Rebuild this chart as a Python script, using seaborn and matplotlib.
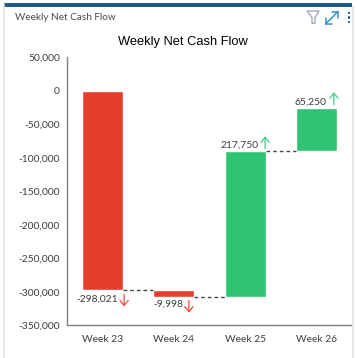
#!/usr/bin/python3

import numpy as np
import pandas as pd
import seaborn as sns
import matplotlib.pyplot as plt
from matplotlib.lines import Line2D
from matplotlib.patches import Rectangle, Polygon
from matplotlib.transforms import offset_copy

weeks = ["Week 23", "Week 24", "Week 25", "Week 26"]
changes = [-298021, -9998, 217750, 65250]
labels = ["-298,021", "-9,998", "217,750", "65,250"]
y_ticks = [50000, 0, -50000, -100000, -150000, -200000, -250000, -300000, -350000]
chart_title = "Weekly Net Cash Flow"

RED = "#e63e2b"
GREEN = "#2ec472"
ARROW_RED = "#ee4a3c"
ARROW_GREEN = "#45c985"
TEXT = "#3c3c3c"
W, H = 357, 358

# pixel offsets from the bar centre / bar edge
label_dx = [15, 9, 13.5, 10.5]
label_dy = [-9, -7.5, 6.5, 6]
arrow_dx = [21.5, 15, 20, 17.5]
arrow_dy = [(-4, -16), (-3.5, -15.5), (2.5, 15), (3, 15.5)]


def main():
    sns.set_theme(style="white")
    plt.rcParams["font.family"] = ["Lato", "DejaVu Sans"]

    ends = np.cumsum(changes)
    starts = ends - np.array(changes)
    df = pd.DataFrame({"week": weeks, "change": changes, "start": starts, "end": ends})

    fig = plt.figure(figsize=(W / 100, H / 100), dpi=100, facecolor="white")
    ax = fig.add_axes([67 / W, 1 - 325.2 / H, 285 / W, 267.7 / H])

    sns.barplot(data=df, x="week", y="change", hue="week", order=weeks, ax=ax, width=0.575,
                palette=[RED if c < 0 else GREEN for c in changes], legend=False, saturation=1)
    # shift each bar so that it starts where the previous one ended
    for patch, start in zip(ax.patches, starts):
        patch.set_y(start)

    ax.set_xlim(-0.5, 3.5)
    ax.set_ylim(-350000, 50000)
    ax.set_yticks(y_ticks)
    ax.set_yticklabels([f"{t:,}" for t in y_ticks], fontsize=7.4, color=TEXT)
    ax.set_xlabel("")
    ax.set_ylabel("")
    ax.tick_params(axis="x", length=0, pad=7, labelsize=7.4, labelcolor=TEXT)
    ax.tick_params(axis="y", length=0, pad=5)
    for side in ["top", "right"]:
        ax.spines[side].set_visible(False)
    for side in ["left", "bottom"]:
        ax.spines[side].set_color("#808080")
        ax.spines[side].set_linewidth(1.0)

    # connectors between bars
    for i in range(3):
        ax.plot([i + 0.2875, i + 0.7125], [ends[i], ends[i]], color="#444444", lw=1.0,
                dashes=(2.6, 2.2))

    # value labels and direction arrows
    for i, c in enumerate(changes):
        edge = min(starts[i], ends[i]) if c < 0 else ends[i]
        ax.text(i, edge, labels[i], ha="right", va="center", fontsize=7.4, color=TEXT,
                transform=offset_copy(ax.transData, fig, x=label_dx[i], y=label_dy[i], units="dots"))
        tail = offset_copy(ax.transData, fig, x=arrow_dx[i], y=arrow_dy[i][0], units="dots")
        tip = offset_copy(ax.transData, fig, x=arrow_dx[i], y=arrow_dy[i][1], units="dots")
        ax.annotate("", xy=(i, edge), xycoords=tip, xytext=(i, edge), textcoords=tail,
                    arrowprops=dict(arrowstyle="->,head_length=0.36,head_width=0.3",
                                    color=ARROW_RED if c < 0 else ARROW_GREEN,
                                    lw=0.9, mutation_scale=10, shrinkA=0, shrinkB=0))

    fig.text(183 / W, 1 - 42.5 / H, chart_title, ha="center", va="center",
             fontsize=9.25, color="black", family="Liberation Sans")
    fig.text(15 / W, 1 - 17.5 / H, chart_title, ha="left", va="center", fontsize=7.2, color="#4a4a4a")

    draw_card(fig)
    fig.savefig("out.png", dpi=100)


def draw_card(fig):
    def px(x, y):
        return x / W, 1 - y / H

    def line(xs, ys, color, lw=1.0):
        fig.add_artist(Line2D([x / W for x in xs], [1 - y / H for y in ys], color=color, lw=lw))

    # card frame
    fig.add_artist(Rectangle(px(4, 6.5), 348 / W, 3.5 / H, color="#1f5a85", lw=0))
    line([3.8, 3.8], [4, 358], "#dfe1e8", 1.2)
    line([353, 353], [6, 358], "#dfe1e8", 1.2)

    # filter icon
    funnel = [px(307, 11), px(319, 11), px(315, 17.5), px(315, 23), px(312, 23.5), px(312, 17.5)]
    fig.add_artist(Polygon(funnel, closed=True, fill=False, ec="#9aa3ab", lw=0.9))

    # expand icon
    line([325.5, 338], [24, 11.5], "#3b8fc6", 1.1)
    line([325.5, 325.5], [18, 24], "#3b8fc6", 1.1)
    line([325.5, 331.5], [24, 24], "#3b8fc6", 1.1)
    line([332, 338], [11.5, 11.5], "#3b8fc6", 1.1)
    line([338, 338], [11.5, 17.5], "#3b8fc6", 1.1)

    # menu dots
    for y in [13, 17.5, 22]:
        fig.add_artist(Rectangle(px(348, y + 1), 2 / W, 2 / H, color="#2f6f9f", lw=0))


if __name__ == "__main__":
    main()
